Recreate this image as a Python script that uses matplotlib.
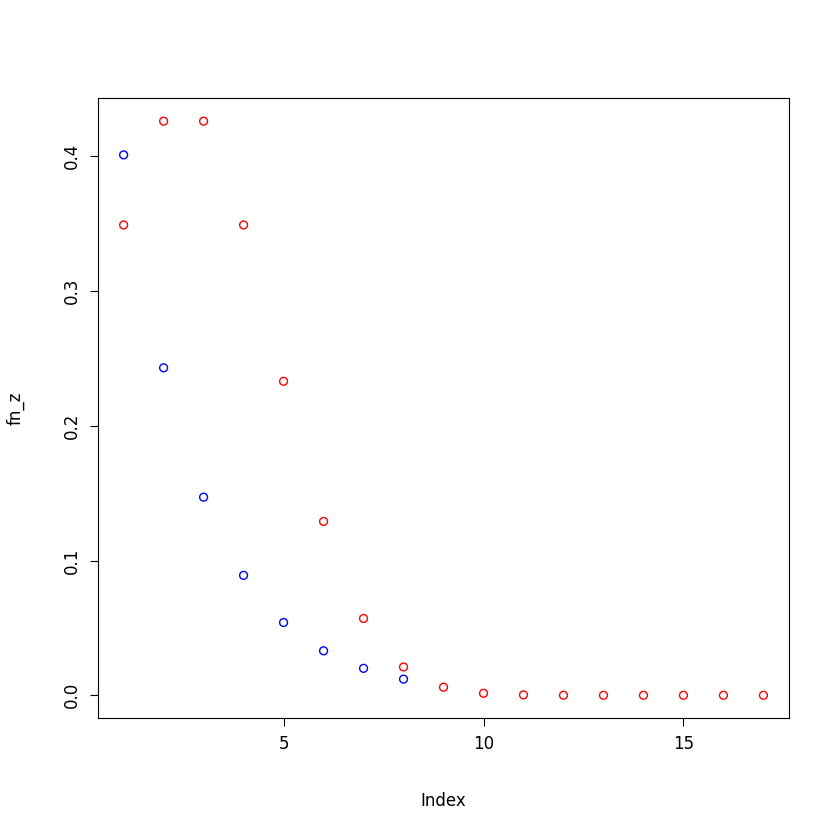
import matplotlib
matplotlib.use("Agg")
import matplotlib.pyplot as plt

blue_idx = [1, 2, 3, 4, 5, 6, 7, 8]
blue_vals = [0.401, 0.243, 0.147, 0.089, 0.054, 0.033, 0.020, 0.012]
red_idx = list(range(1, 18))
red_vals = [0.349, 0.426, 0.426, 0.349, 0.233, 0.129, 0.057, 0.021, 0.006,
            0.0015, 0.0003, 0.00005, 0.0, 0.0, 0.0, 0.0, 0.0]

fig = plt.figure(figsize=(8.4, 8.4), dpi=100)
ax = fig.add_axes([0.1167, 0.145, 0.8226, 0.738])
ax.scatter(blue_idx, blue_vals, s=32, facecolors='none', edgecolors='blue', linewidths=1)
ax.scatter(red_idx, red_vals, s=32, facecolors='none', edgecolors='red', linewidths=1)
ax.set_xlim(0.36, 17.64)
ax.set_ylim(-0.017, 0.443)
ax.set_xticks([5, 10, 15])
ax.set_yticks([0.0, 0.1, 0.2, 0.3, 0.4])
ax.set_yticklabels(["0.0", "0.1", "0.2", "0.3", "0.4"], rotation=90, va='center')
ax.tick_params(labelsize=12, length=6, pad=6)
ax.set_xlabel("Index", fontsize=12, labelpad=28)
ax.set_ylabel("fn_z", fontsize=12, labelpad=28)
for s in ax.spines.values():
    s.set_linewidth(0.8)
fig.savefig("out.png", dpi=100)
